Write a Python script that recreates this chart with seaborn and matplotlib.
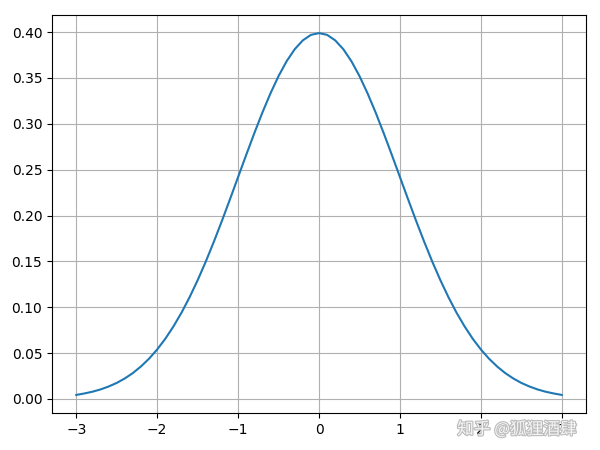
import matplotlib.pyplot as plt
import matplotlib.patheffects as pe
import seaborn as sns
import pandas as pd

# values (x step 0.1)
x_vals = [-3.0, -2.9, -2.8, -2.7, -2.6, -2.5, -2.4, -2.3, -2.2, -2.1,
          -2.0, -1.9, -1.8, -1.7, -1.6, -1.5, -1.4, -1.3, -1.2, -1.1,
          -1.0, -0.9, -0.8, -0.7, -0.6, -0.5, -0.4, -0.3, -0.2, -0.1,
          0.0, 0.1, 0.2, 0.3, 0.4, 0.5, 0.6, 0.7, 0.8, 0.9,
          1.0, 1.1, 1.2, 1.3, 1.4, 1.5, 1.6, 1.7, 1.8, 1.9,
          2.0, 2.1, 2.2, 2.3, 2.4, 2.5, 2.6, 2.7, 2.8, 2.9, 3.0]
y_vals = [0.0044, 0.0060, 0.0079, 0.0104, 0.0136, 0.0175, 0.0224, 0.0283, 0.0355, 0.0440,
          0.0540, 0.0656, 0.0790, 0.0940, 0.1109, 0.1295, 0.1497, 0.1714, 0.1942, 0.2179,
          0.2420, 0.2661, 0.2897, 0.3123, 0.3332, 0.3521, 0.3683, 0.3814, 0.3910, 0.3970,
          0.3989, 0.3970, 0.3910, 0.3814, 0.3683, 0.3521, 0.3332, 0.3123, 0.2897, 0.2661,
          0.2420, 0.2179, 0.1942, 0.1714, 0.1497, 0.1295, 0.1109, 0.0940, 0.0790, 0.0656,
          0.0540, 0.0440, 0.0355, 0.0283, 0.0224, 0.0175, 0.0136, 0.0104, 0.0079, 0.0060, 0.0044]
watermark = "知乎 @狐狸酒肆"

df = pd.DataFrame({"x": x_vals, "y": y_vals})

fig = plt.figure(figsize=(6, 4.5), dpi=100)
ax = fig.add_axes([0.0867, 0.0822, 0.89, 0.8844])
sns.lineplot(data=df, x="x", y="y", color="#1f77b4", ax=ax)
ax.set_xlabel("")
ax.set_ylabel("")
ax.set_yticks([0.0, 0.05, 0.10, 0.15, 0.20, 0.25, 0.30, 0.35, 0.40])
ax.grid(True, color="#b0b0b0", linewidth=0.8)

fig.text(0.762, 0.035, watermark, fontsize=12, color="#f4f4f4",
         family=["Noto Sans CJK SC", "DejaVu Sans"],
         path_effects=[pe.withStroke(linewidth=1.6, foreground="#bcbcbc")])

fig.savefig("out.png", dpi=100)
